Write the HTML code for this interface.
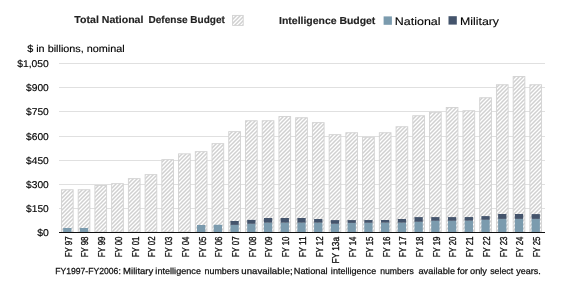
<!DOCTYPE html><html><head><meta charset="utf-8"><style>html,body{margin:0;padding:0;background:#fff;}body{width:571px;height:285px;overflow:hidden;position:relative;}svg{position:absolute;left:0;top:0;display:block;will-change:transform;}text{font-family:"Liberation Sans",sans-serif;text-rendering:geometricPrecision;fill:#000;stroke:#000;stroke-width:0.15px;white-space:pre;}text.b{stroke:#222;stroke-width:0.15px;fill:#222;}text.fn{stroke-width:0.25px;fill:#111;stroke:#111;}text.xl{stroke-width:0.35px;fill:#111;stroke:#111;}text.r{stroke-width:0.12px;}</style></head><body><svg width="571" height="285" viewBox="0 0 571 285"><defs><pattern id="h" patternUnits="userSpaceOnUse" width="4" height="4"><rect width="4" height="4" fill="#fff"/><path d="M-1,1 L1,-1 M0,4 L4,0 M3,5 L5,3" stroke="#d0d0d0" stroke-width="1.5"/></pattern></defs><line x1="59" y1="63.5" x2="545" y2="63.5" stroke="#e0e0e0" stroke-width="1"/><line x1="59" y1="87.5" x2="545" y2="87.5" stroke="#e0e0e0" stroke-width="1"/><line x1="59" y1="111.5" x2="545" y2="111.5" stroke="#e0e0e0" stroke-width="1"/><line x1="59" y1="136.5" x2="545" y2="136.5" stroke="#e0e0e0" stroke-width="1"/><line x1="59" y1="160.5" x2="545" y2="160.5" stroke="#e0e0e0" stroke-width="1"/><line x1="59" y1="184.5" x2="545" y2="184.5" stroke="#e0e0e0" stroke-width="1"/><line x1="59" y1="208.5" x2="545" y2="208.5" stroke="#e0e0e0" stroke-width="1"/><rect x="61.45" y="189.75" width="11.70" height="42.25" fill="url(#h)" stroke="#d2d2d2" stroke-width="0.9"/><rect x="78.18" y="189.75" width="11.70" height="42.25" fill="url(#h)" stroke="#d2d2d2" stroke-width="0.9"/><rect x="94.91" y="185.45" width="11.70" height="46.55" fill="url(#h)" stroke="#d2d2d2" stroke-width="0.9"/><rect x="111.64" y="183.65" width="11.70" height="48.35" fill="url(#h)" stroke="#d2d2d2" stroke-width="0.9"/><rect x="128.37" y="178.65" width="11.70" height="53.35" fill="url(#h)" stroke="#d2d2d2" stroke-width="0.9"/><rect x="145.10" y="174.65" width="11.70" height="57.35" fill="url(#h)" stroke="#d2d2d2" stroke-width="0.9"/><rect x="161.83" y="159.65" width="11.70" height="72.35" fill="url(#h)" stroke="#d2d2d2" stroke-width="0.9"/><rect x="178.56" y="153.85" width="11.70" height="78.15" fill="url(#h)" stroke="#d2d2d2" stroke-width="0.9"/><rect x="195.29" y="151.65" width="11.70" height="80.35" fill="url(#h)" stroke="#d2d2d2" stroke-width="0.9"/><rect x="212.02" y="143.65" width="11.70" height="88.35" fill="url(#h)" stroke="#d2d2d2" stroke-width="0.9"/><rect x="228.75" y="131.65" width="11.70" height="100.35" fill="url(#h)" stroke="#d2d2d2" stroke-width="0.9"/><rect x="245.48" y="120.75" width="11.70" height="111.25" fill="url(#h)" stroke="#d2d2d2" stroke-width="0.9"/><rect x="262.21" y="120.75" width="11.70" height="111.25" fill="url(#h)" stroke="#d2d2d2" stroke-width="0.9"/><rect x="278.94" y="116.55" width="11.70" height="115.45" fill="url(#h)" stroke="#d2d2d2" stroke-width="0.9"/><rect x="295.67" y="117.75" width="11.70" height="114.25" fill="url(#h)" stroke="#d2d2d2" stroke-width="0.9"/><rect x="312.40" y="122.65" width="11.70" height="109.35" fill="url(#h)" stroke="#d2d2d2" stroke-width="0.9"/><rect x="329.13" y="134.65" width="11.70" height="97.35" fill="url(#h)" stroke="#d2d2d2" stroke-width="0.9"/><rect x="345.86" y="132.75" width="11.70" height="99.25" fill="url(#h)" stroke="#d2d2d2" stroke-width="0.9"/><rect x="362.59" y="137.25" width="11.70" height="94.75" fill="url(#h)" stroke="#d2d2d2" stroke-width="0.9"/><rect x="379.32" y="132.75" width="11.70" height="99.25" fill="url(#h)" stroke="#d2d2d2" stroke-width="0.9"/><rect x="396.05" y="126.75" width="11.70" height="105.25" fill="url(#h)" stroke="#d2d2d2" stroke-width="0.9"/><rect x="412.78" y="115.75" width="11.70" height="116.25" fill="url(#h)" stroke="#d2d2d2" stroke-width="0.9"/><rect x="429.51" y="112.25" width="11.70" height="119.75" fill="url(#h)" stroke="#d2d2d2" stroke-width="0.9"/><rect x="446.24" y="107.50" width="11.70" height="124.50" fill="url(#h)" stroke="#d2d2d2" stroke-width="0.9"/><rect x="462.97" y="110.75" width="11.70" height="121.25" fill="url(#h)" stroke="#d2d2d2" stroke-width="0.9"/><rect x="479.70" y="97.75" width="11.70" height="134.25" fill="url(#h)" stroke="#d2d2d2" stroke-width="0.9"/><rect x="496.43" y="84.75" width="11.70" height="147.25" fill="url(#h)" stroke="#d2d2d2" stroke-width="0.9"/><rect x="513.16" y="76.55" width="11.70" height="155.45" fill="url(#h)" stroke="#d2d2d2" stroke-width="0.9"/><rect x="529.89" y="84.75" width="11.70" height="147.25" fill="url(#h)" stroke="#d2d2d2" stroke-width="0.9"/><rect x="63.15" y="228.00" width="8.30" height="4.00" fill="#7b9bae"/><rect x="79.88" y="228.00" width="8.30" height="4.00" fill="#7b9bae"/><rect x="196.99" y="225.00" width="8.30" height="7.00" fill="#7b9bae"/><rect x="213.72" y="224.80" width="8.30" height="7.20" fill="#7b9bae"/><rect x="230.45" y="224.90" width="8.30" height="7.10" fill="#7b9bae"/><rect x="230.45" y="221.00" width="8.30" height="3.90" fill="#44546c"/><rect x="247.18" y="223.80" width="8.30" height="8.20" fill="#7b9bae"/><rect x="247.18" y="219.90" width="8.30" height="3.90" fill="#44546c"/><rect x="263.91" y="222.70" width="8.30" height="9.30" fill="#7b9bae"/><rect x="263.91" y="218.00" width="8.30" height="4.70" fill="#44546c"/><rect x="280.64" y="222.70" width="8.30" height="9.30" fill="#7b9bae"/><rect x="280.64" y="218.00" width="8.30" height="4.70" fill="#44546c"/><rect x="297.37" y="222.70" width="8.30" height="9.30" fill="#7b9bae"/><rect x="297.37" y="218.00" width="8.30" height="4.70" fill="#44546c"/><rect x="314.10" y="222.70" width="8.30" height="9.30" fill="#7b9bae"/><rect x="314.10" y="219.00" width="8.30" height="3.70" fill="#44546c"/><rect x="330.83" y="223.80" width="8.30" height="8.20" fill="#7b9bae"/><rect x="330.83" y="220.10" width="8.30" height="3.70" fill="#44546c"/><rect x="347.56" y="222.90" width="8.30" height="9.10" fill="#7b9bae"/><rect x="347.56" y="220.10" width="8.30" height="2.80" fill="#44546c"/><rect x="364.29" y="222.80" width="8.30" height="9.20" fill="#7b9bae"/><rect x="364.29" y="220.05" width="8.30" height="2.75" fill="#44546c"/><rect x="381.02" y="222.70" width="8.30" height="9.30" fill="#7b9bae"/><rect x="381.02" y="220.00" width="8.30" height="2.70" fill="#44546c"/><rect x="397.75" y="222.70" width="8.30" height="9.30" fill="#7b9bae"/><rect x="397.75" y="219.00" width="8.30" height="3.70" fill="#44546c"/><rect x="414.48" y="221.80" width="8.30" height="10.20" fill="#7b9bae"/><rect x="414.48" y="217.10" width="8.30" height="4.70" fill="#44546c"/><rect x="431.21" y="220.80" width="8.30" height="11.20" fill="#7b9bae"/><rect x="431.21" y="217.10" width="8.30" height="3.70" fill="#44546c"/><rect x="447.94" y="220.80" width="8.30" height="11.20" fill="#7b9bae"/><rect x="447.94" y="217.10" width="8.30" height="3.70" fill="#44546c"/><rect x="464.67" y="220.70" width="8.30" height="11.30" fill="#7b9bae"/><rect x="464.67" y="217.05" width="8.30" height="3.65" fill="#44546c"/><rect x="481.40" y="219.80" width="8.30" height="12.20" fill="#7b9bae"/><rect x="481.40" y="216.10" width="8.30" height="3.70" fill="#44546c"/><rect x="498.13" y="218.90" width="8.30" height="13.10" fill="#7b9bae"/><rect x="498.13" y="214.00" width="8.30" height="4.90" fill="#44546c"/><rect x="514.86" y="218.90" width="8.30" height="13.10" fill="#7b9bae"/><rect x="514.86" y="214.00" width="8.30" height="4.90" fill="#44546c"/><rect x="531.59" y="218.90" width="8.30" height="13.10" fill="#7b9bae"/><rect x="531.59" y="214.10" width="8.30" height="4.80" fill="#44546c"/><line x1="59" y1="232.5" x2="545" y2="232.5" stroke="#111" stroke-width="1.2"/><text x="37.19" y="236.00" font-size="9.9" textLength="11.62" lengthAdjust="spacingAndGlyphs">$0</text><text x="26.09" y="211.90" font-size="9.9" textLength="22.71" lengthAdjust="spacingAndGlyphs">$150</text><text x="26.09" y="187.90" font-size="9.9" textLength="22.71" lengthAdjust="spacingAndGlyphs">$300</text><text x="26.09" y="163.90" font-size="9.9" textLength="22.71" lengthAdjust="spacingAndGlyphs">$450</text><text x="26.09" y="139.90" font-size="9.9" textLength="22.71" lengthAdjust="spacingAndGlyphs">$600</text><text x="26.09" y="114.90" font-size="9.9" textLength="22.71" lengthAdjust="spacingAndGlyphs">$750</text><text x="26.09" y="90.90" font-size="9.9" textLength="22.71" lengthAdjust="spacingAndGlyphs">$900</text><text x="17.19" y="66.90" font-size="9.9" textLength="31.61" lengthAdjust="spacingAndGlyphs">$1,050</text><text class="xl" transform="translate(71.70,0) rotate(-90)" x="-257.34" y="0" font-size="10.0" textLength="20.83" lengthAdjust="spacingAndGlyphs">FY 97</text><text class="xl" transform="translate(88.43,0) rotate(-90)" x="-257.34" y="0" font-size="10.0" textLength="20.78" lengthAdjust="spacingAndGlyphs">FY 98</text><text class="xl" transform="translate(105.16,0) rotate(-90)" x="-257.34" y="0" font-size="10.0" textLength="20.81" lengthAdjust="spacingAndGlyphs">FY 99</text><text class="xl" transform="translate(121.89,0) rotate(-90)" x="-257.34" y="0" font-size="10.0" textLength="20.74" lengthAdjust="spacingAndGlyphs">FY 00</text><text class="xl" transform="translate(138.62,0) rotate(-90)" x="-257.34" y="0" font-size="10.0" textLength="20.82" lengthAdjust="spacingAndGlyphs">FY 01</text><text class="xl" transform="translate(155.35,0) rotate(-90)" x="-257.34" y="0" font-size="10.0" textLength="20.83" lengthAdjust="spacingAndGlyphs">FY 02</text><text class="xl" transform="translate(172.08,0) rotate(-90)" x="-257.34" y="0" font-size="10.0" textLength="20.78" lengthAdjust="spacingAndGlyphs">FY 03</text><text class="xl" transform="translate(188.81,0) rotate(-90)" x="-257.34" y="0" font-size="10.0" textLength="20.66" lengthAdjust="spacingAndGlyphs">FY 04</text><text class="xl" transform="translate(205.54,0) rotate(-90)" x="-257.34" y="0" font-size="10.0" textLength="20.77" lengthAdjust="spacingAndGlyphs">FY 05</text><text class="xl" transform="translate(222.27,0) rotate(-90)" x="-257.34" y="0" font-size="10.0" textLength="20.78" lengthAdjust="spacingAndGlyphs">FY 06</text><text class="xl" transform="translate(239.00,0) rotate(-90)" x="-257.34" y="0" font-size="10.0" textLength="20.83" lengthAdjust="spacingAndGlyphs">FY 07</text><text class="xl" transform="translate(255.73,0) rotate(-90)" x="-257.34" y="0" font-size="10.0" textLength="20.78" lengthAdjust="spacingAndGlyphs">FY 08</text><text class="xl" transform="translate(272.46,0) rotate(-90)" x="-257.34" y="0" font-size="10.0" textLength="20.81" lengthAdjust="spacingAndGlyphs">FY 09</text><text class="xl" transform="translate(289.19,0) rotate(-90)" x="-257.34" y="0" font-size="10.0" textLength="20.74" lengthAdjust="spacingAndGlyphs">FY 10</text><text class="xl" transform="translate(305.92,0) rotate(-90)" x="-257.34" y="0" font-size="10.0" textLength="20.82" lengthAdjust="spacingAndGlyphs">FY 11</text><text class="xl" transform="translate(322.65,0) rotate(-90)" x="-257.34" y="0" font-size="10.0" textLength="20.83" lengthAdjust="spacingAndGlyphs">FY 12</text><text class="xl" transform="translate(339.38,0) rotate(-90)" x="-263.58" y="0" font-size="10.0" textLength="26.68" lengthAdjust="spacingAndGlyphs">FY 13a</text><text class="xl" transform="translate(356.11,0) rotate(-90)" x="-257.34" y="0" font-size="10.0" textLength="20.66" lengthAdjust="spacingAndGlyphs">FY 14</text><text class="xl" transform="translate(372.84,0) rotate(-90)" x="-257.34" y="0" font-size="10.0" textLength="20.77" lengthAdjust="spacingAndGlyphs">FY 15</text><text class="xl" transform="translate(389.57,0) rotate(-90)" x="-257.34" y="0" font-size="10.0" textLength="20.78" lengthAdjust="spacingAndGlyphs">FY 16</text><text class="xl" transform="translate(406.30,0) rotate(-90)" x="-257.34" y="0" font-size="10.0" textLength="20.83" lengthAdjust="spacingAndGlyphs">FY 17</text><text class="xl" transform="translate(423.03,0) rotate(-90)" x="-257.34" y="0" font-size="10.0" textLength="20.78" lengthAdjust="spacingAndGlyphs">FY 18</text><text class="xl" transform="translate(439.76,0) rotate(-90)" x="-257.34" y="0" font-size="10.0" textLength="20.81" lengthAdjust="spacingAndGlyphs">FY 19</text><text class="xl" transform="translate(456.49,0) rotate(-90)" x="-257.34" y="0" font-size="10.0" textLength="20.74" lengthAdjust="spacingAndGlyphs">FY 20</text><text class="xl" transform="translate(473.22,0) rotate(-90)" x="-257.34" y="0" font-size="10.0" textLength="20.82" lengthAdjust="spacingAndGlyphs">FY 21</text><text class="xl" transform="translate(489.95,0) rotate(-90)" x="-257.34" y="0" font-size="10.0" textLength="20.83" lengthAdjust="spacingAndGlyphs">FY 22</text><text class="xl" transform="translate(506.68,0) rotate(-90)" x="-257.34" y="0" font-size="10.0" textLength="20.78" lengthAdjust="spacingAndGlyphs">FY 23</text><text class="xl" transform="translate(523.41,0) rotate(-90)" x="-257.34" y="0" font-size="10.0" textLength="20.66" lengthAdjust="spacingAndGlyphs">FY 24</text><text class="xl" transform="translate(540.14,0) rotate(-90)" x="-257.34" y="0" font-size="10.0" textLength="20.77" lengthAdjust="spacingAndGlyphs">FY 25</text><text x="27.18" y="52.10" font-size="10.0" textLength="97.54" lengthAdjust="spacingAndGlyphs">$ in billions, nominal</text><text class="b" x="74.38" y="23.40" font-size="10.2" font-weight="bold" textLength="69.06" lengthAdjust="spacingAndGlyphs">Total National</text><text class="b" x="148.53" y="23.40" font-size="10.2" font-weight="bold" textLength="76.39" lengthAdjust="spacingAndGlyphs">Defense Budget</text><rect x="232.6" y="15.4" width="10.6" height="10" fill="url(#h)" stroke="#d2d2d2" stroke-width="0.9"/><text class="b" x="279.10" y="23.60" font-size="10.2" font-weight="bold" textLength="96.23" lengthAdjust="spacingAndGlyphs">Intelligence Budget</text><rect x="383.6" y="16.4" width="8.3" height="8.4" fill="#7b9bae"/><text class="r" x="394.88" y="24.50" font-size="10.8" textLength="45.65" lengthAdjust="spacingAndGlyphs">National</text><rect x="448.5" y="16.2" width="8.3" height="8.4" fill="#44546c"/><text class="r" x="459.99" y="24.60" font-size="10.8" textLength="39.04" lengthAdjust="spacingAndGlyphs">Military</text><text class="fn" x="55.19" y="273.90" font-size="8.8" textLength="65.59" lengthAdjust="spacingAndGlyphs">FY1997-FY2006:</text><text class="fn" x="123.12" y="273.90" font-size="8.8" textLength="30.20" lengthAdjust="spacingAndGlyphs">Military</text><text class="fn" x="155.39" y="273.90" font-size="8.8" textLength="45.61" lengthAdjust="spacingAndGlyphs">intelligence</text><text class="fn" x="204.61" y="273.90" font-size="8.8" textLength="34.51" lengthAdjust="spacingAndGlyphs">numbers</text><text class="fn" x="241.37" y="273.90" font-size="8.8" textLength="51.39" lengthAdjust="spacingAndGlyphs">unavailable;</text><text class="fn" x="293.74" y="273.90" font-size="8.8" textLength="33.88" lengthAdjust="spacingAndGlyphs">National</text><text class="fn" x="330.89" y="273.90" font-size="8.8" textLength="45.31" lengthAdjust="spacingAndGlyphs">intelligence</text><text class="fn" x="380.13" y="273.90" font-size="8.8" textLength="33.59" lengthAdjust="spacingAndGlyphs">numbers</text><text class="fn" x="418.40" y="273.90" font-size="8.8" textLength="36.71" lengthAdjust="spacingAndGlyphs">available</text><text class="fn" x="457.17" y="273.90" font-size="8.8" textLength="10.78" lengthAdjust="spacingAndGlyphs">for</text><text class="fn" x="470.01" y="273.90" font-size="8.8" textLength="17.01" lengthAdjust="spacingAndGlyphs">only</text><text class="fn" x="490.15" y="273.90" font-size="8.8" textLength="23.01" lengthAdjust="spacingAndGlyphs">select</text><text class="fn" x="516.18" y="273.90" font-size="8.8" textLength="24.65" lengthAdjust="spacingAndGlyphs">years.</text></svg></body></html>
